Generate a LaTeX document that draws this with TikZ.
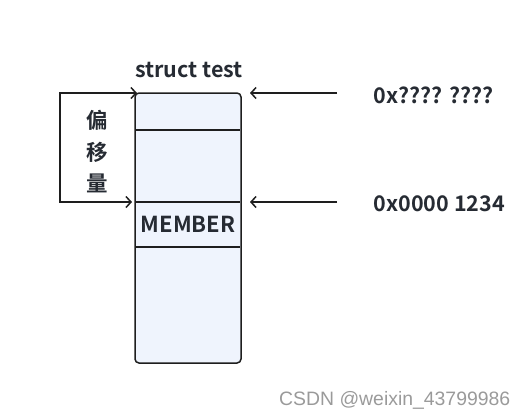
\documentclass[tikz,border=0pt]{standalone}
\usepackage{fontspec}
\setmainfont{Liberation Sans}
\newfontfamily\cjk{Noto Sans CJK SC}[BoldFont={Noto Sans CJK SC Bold}]
\usetikzlibrary{arrows.meta,positioning}

\definecolor{boxfill}{HTML}{EFF4FD}
\definecolor{ink}{HTML}{1E1E1E}
\definecolor{labelink}{HTML}{262B33}
\definecolor{markgray}{HTML}{9A9A9A}

\begin{document}
\begin{tikzpicture}[x=1pt,y=-1pt,>={Straight Barb[length=5pt,width=11pt]},line width=1.5pt,draw=ink]
		\tikzstyle{structbox}=[draw=ink,fill=boxfill,rounded corners=4pt,minimum width=106pt,minimum height=270pt,inner sep=0pt]
		\tikzstyle{lbl}=[font=\cjk\bfseries\fontsize{21.5}{25}\selectfont,text=labelink,inner sep=0pt]

		\useasboundingbox (0,0) rectangle (527,418);

		% the struct and its slots
		\node[structbox] (S) at (188,228) {};
		\draw (136,130) -- (240,130);
		\draw (136,202) -- (240,202);
		\draw (136,247) -- (240,247);
		\node[lbl] (title) at (189,70) {struct test};
		\node[lbl,font=\cjk\bfseries\fontsize{22}{26}\selectfont] (member) at (188,224) {MEMBER};

		% offset bracket
		\coordinate (base) at (137,93);
		\coordinate (slot) at (132,202);
		\coordinate (c1) at (60,93);
		\coordinate (c2) at (60,202);
		\draw[<->] (base) -- (c1) -- (c2) -- (slot);
		\node[lbl] (off1) at (97,120) {偏};
		\node[lbl] (off2) at (97,152) {移};
		\node[lbl] (off3) at (97,183) {量};

		% addresses
		\node[lbl,anchor=west] (addr1) at (373,95) {0x???? ????};
		\node[lbl,anchor=west] (addr2) at (373,204) {0x0000 1234};
		\coordinate (a1) at (337,93);
		\coordinate (a2) at (337,202);
		\coordinate (t1) at (250,93);
		\coordinate (t2) at (250,202);
		\draw[->] (a1) -- (t1);
		\draw[->] (a2) -- (t2);

		\node[text=markgray,font=\fontsize{19.4}{22}\selectfont,anchor=east,inner sep=0pt] (mark) at (511,400) {CSDN @weixin\_43799986};
	\end{tikzpicture}
\end{document}
